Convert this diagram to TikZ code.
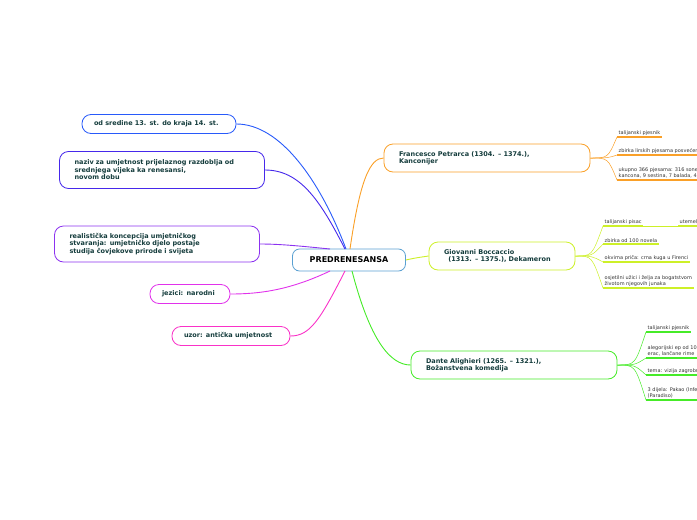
\documentclass[tikz,border=0pt]{standalone}
\usepackage{fontspec}
\setmainfont{DejaVu Sans}
\usetikzlibrary{positioning}
\definecolor{mapink}{RGB}{20,60,60}
\definecolor{cpetrarca}{RGB}{250,160,40}
\definecolor{cboccaccio}{RGB}{205,240,40}
\definecolor{cdante}{RGB}{70,235,40}
\definecolor{cleftA}{RGB}{40,90,250}
\definecolor{cleftB}{RGB}{70,40,235}
\definecolor{cleftC}{RGB}{140,50,240}
\definecolor{cleftD}{RGB}{225,50,235}
\definecolor{cleftE}{RGB}{250,50,200}
\definecolor{ccentre}{RGB}{90,160,210}

\begin{document}
\begin{tikzpicture}[x=1pt,y=-1pt,
    topic/.style={rectangle, rounded corners=9pt, draw=#1, thick, fill=white, text=mapink, font=\fontsize{6.5}{7.5}\selectfont\bfseries, align=left, inner xsep=15pt},
    leaf/.style={anchor=south west, inner sep=1.5pt, text=black!80, font=\fontsize{5}{6}\selectfont, align=left},
    uline/.style={line width=1.3pt, draw=#1},
    branch/.style={line width=0.9pt, draw=#1},
    twig/.style={line width=0.5pt, draw=#1}
]
\clip (0,0) rectangle (697,520);
\useasboundingbox (0,0) rectangle (697,520);

% Centre
\node[rectangle, rounded corners=7pt, draw=ccentre, thick, fill=white, font=\fontsize{8}{9}\selectfont\bfseries, minimum width=113pt, minimum height=22pt] (centre) at (349,260) {PREDRENESANSA};

% Left topics
\node[topic=cleftA, inner xsep=12pt, text width=130pt, minimum height=19pt] (period) at (159,124) {od sredine 13. st. do kraja 14. st.};
\node[topic=cleftB, text width=175pt, minimum height=37pt] (name) at (162,170) {naziv za umjetnost prijelaznog razdoblja od\\srednjega vijeka ka renesansi,\\novom dobu};
\node[topic=cleftC, text width=175pt, minimum height=36pt] (realism) at (157,244) {realistička koncepcija umjetničkog\\stvaranja: umjetničko djelo postaje\\studija čovjekove prirode i svijeta};
\node[topic=cleftD, inner xsep=12pt, text width=56pt, minimum height=19pt] (language) at (190,294) {jezici: narodni};
\node[topic=cleftE, inner xsep=12pt, text width=94pt, minimum height=19pt] (model) at (231,336) {uzor: antička umjetnost};

% Right topics
\node[topic=cpetrarca, text width=176pt, minimum height=28pt] (petrarca) at (487,158) {Francesco Petrarca (1304. – 1374.),\\Kanconijer};
\node[topic=cboccaccio, text width=116pt, minimum height=28pt] (boccaccio) at (502,256) {Giovanni Boccaccio\\\ \ (1313. – 1375.), Dekameron};
\node[topic=cdante, text width=176pt, minimum height=28pt] (dante) at (514,365) {Dante Alighieri (1265. – 1321.),\\Božanstvena komedija};

% Branches from centre
\draw[branch=cleftA] (346,249) .. controls (320,180) and (280,124) .. (period.east);
\draw[branch=cleftB] (345,249) .. controls (320,200) and (300,170) .. (name.east);
\draw[branch=cleftC] (330,249) .. controls (300,246) and (280,244) .. (realism.east);
\draw[branch=cleftD] (330,271) .. controls (290,290) and (260,294) .. (language.east);
\draw[branch=cleftE] (345,271) .. controls (320,320) and (310,336) .. (model.east);
\draw[branch=cpetrarca] (350,249) .. controls (360,180) and (370,158) .. (petrarca.west);
\draw[branch=cboccaccio] (centre.east) .. controls (415,258) .. (boccaccio.west);
\draw[branch=cdante] (352,271) .. controls (370,340) and (390,365) .. (dante.west);

% Petrarca leaves
\node[leaf] (pA) at (617,137) {talijanski pjesnik};
\node[leaf] (pB) at (617,155) {zbirka lirskih pjesama posvećenih Lauri};
\node[leaf] (pC) at (617,180) {ukupno 366 pjesama: 316 soneta, 29\\kancona, 9 sestina, 7 balada, 4 madrigala};
\foreach \n in {pA,pB,pC} {
  \draw[uline=cpetrarca] (\n.south west) -- (\n.south east);
  \draw[twig=cpetrarca] (petrarca.east) .. controls (608,158) and (608,158) .. (\n.south west);
}

% Boccaccio leaves
\node[leaf] (bA) at (603,226) {talijanski pisac};
\node[leaf] (bA1) at (678,226) {utemeljitelj novele};
\node[leaf] (bB) at (603,244) {zbirka od 100 novela};
\node[leaf] (bC) at (603,262) {okvirna priča: crna kuga u Firenci};
\node[leaf] (bD) at (603,288) {osjetilni užici i želja za bogatstvom\\životom njegovih junaka};
\foreach \n in {bA,bA1,bB,bC,bD} \draw[uline=cboccaccio] (\n.south west) -- (\n.south east);
\draw[twig=cboccaccio] (bA.south east) .. controls (660,226) and (660,226) .. (bA1.south west);
\foreach \n in {bA,bB,bC,bD}
  \draw[twig=cboccaccio] (boccaccio.east) .. controls (592,256) and (592,256) .. (\n.south west);

% Dante leaves
\node[leaf] (dA) at (646,332) {talijanski pjesnik};
\node[leaf] (dB) at (646,358) {alegorijski ep od 100 pjevanja u jedanaest-\\erac, lančane rime};
\node[leaf] (dC) at (646,375) {tema: vizija zagrobnog svijeta};
\node[leaf] (dD) at (646,400) {3 dijela: Pakao (Inferno), Čistilište (Purgatorio) i Raj\\(Paradiso)};
\foreach \n in {dA,dB,dC,dD} {
  \draw[uline=cdante] (\n.south west) -- (\n.south east);
  \draw[twig=cdante] (dante.east) .. controls (635,365) and (635,365) .. (\n.south west);
}
\end{tikzpicture}
\end{document}
